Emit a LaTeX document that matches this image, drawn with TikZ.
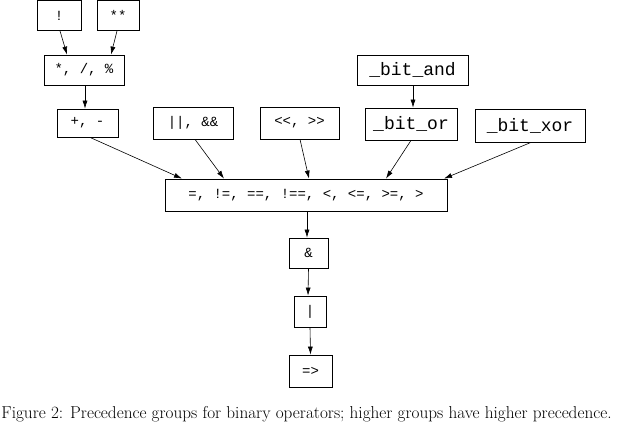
\documentclass[tikz,border=0pt]{standalone}
\usepackage{fontspec}
\setmonofont{Liberation Mono}
\usetikzlibrary{arrows.meta}

\begin{document}
\begin{tikzpicture}[x=1pt,y=-1pt,
	op/.style={draw, line width=0.8pt, inner sep=0pt, font=\ttfamily\fontsize{14}{14}\selectfont},
	bit/.style={op, font=\ttfamily\fontsize{18}{18}\selectfont},
	pre/.style={-{Latex[length=8pt,width=5pt]}, line width=0.6pt}]
	\useasboundingbox (0,0) rectangle (617,430);

	\node[op, minimum width=44pt, minimum height=30pt]	(bang)	at (59,15.5)	{!};
	\node[op, minimum width=42pt, minimum height=30pt]	(pow)	at (118,15.5)	{**};
	\node[op, minimum width=80pt, minimum height=30pt]	(mul)	at (84,70)	{*, /, \%};
	\node[op, minimum width=61pt, minimum height=28pt]	(add)	at (87.5,123)	{+, -};
	\node[op, minimum width=80pt, minimum height=32pt]	(logic)	at (193,123)	{||, \&\&};
	\node[op, minimum width=79pt, minimum height=32pt]	(shift)	at (299.5,123)	{<<, >>};
	\node[bit, minimum width=111pt, minimum height=30pt]	(bitand)	at (412.5,70)	{\_bit\_and};
	\node[bit, minimum width=92pt, minimum height=32pt]	(bitor)	at (411,124)	{\_bit\_or};
	\node[bit, minimum width=110pt, minimum height=33pt]	(bitxor)	at (530,125.5)	{\_bit\_xor};
	\node[op, minimum width=282pt, minimum height=32pt]	(cmp)	at (306,195)	{=, !=, ==, !==, <, <=, >=, >};
	\node[op, minimum width=39pt, minimum height=30pt]	(amp)	at (308.5,253)	{\&};
	\node[op, minimum width=32pt, minimum height=31pt]	(pipe)	at (310,311.5)	{|};
	\node[op, minimum width=43pt, minimum height=32pt]	(impl)	at (310.5,371)	{=>};

	\draw[pre]	([xshift=1]bang.south) -- ([xshift=-17]mul.north);
	\draw[pre]	([xshift=-1]pow.south) -- ([xshift=27]mul.north);
	\draw[pre]	([xshift=1]mul.south) -- ([xshift=-2.5]add.north);
	\draw[pre]	([xshift=2.5]add.south) -- ([xshift=-124]cmp.north);
	\draw[pre]	([xshift=2]logic.south) -- ([xshift=-82]cmp.north);
	\draw[pre]	([xshift=0.5]shift.south) -- ([xshift=3]cmp.north);
	\draw[pre]	([xshift=0.5]bitand.south) -- ([xshift=2]bitor.north);
	\draw[pre]	(bitor.south) -- ([xshift=80]cmp.north);
	\draw[pre]	([xshift=1]bitxor.south) -- ([xshift=138]cmp.north);
	\draw[pre]	([xshift=1]cmp.south) -- ([xshift=-1.5]amp.north);
	\draw[pre]	(amp.south) -- ([xshift=-2]pipe.north);
	\draw[pre]	(pipe.south) -- (impl.north);

	\node[font=\fontsize{17.2}{20}\selectfont]	(caption)	at (306.5,414)	{Figure 2: Precedence groups for binary operators; higher groups have higher precedence.};
\end{tikzpicture}
\end{document}
